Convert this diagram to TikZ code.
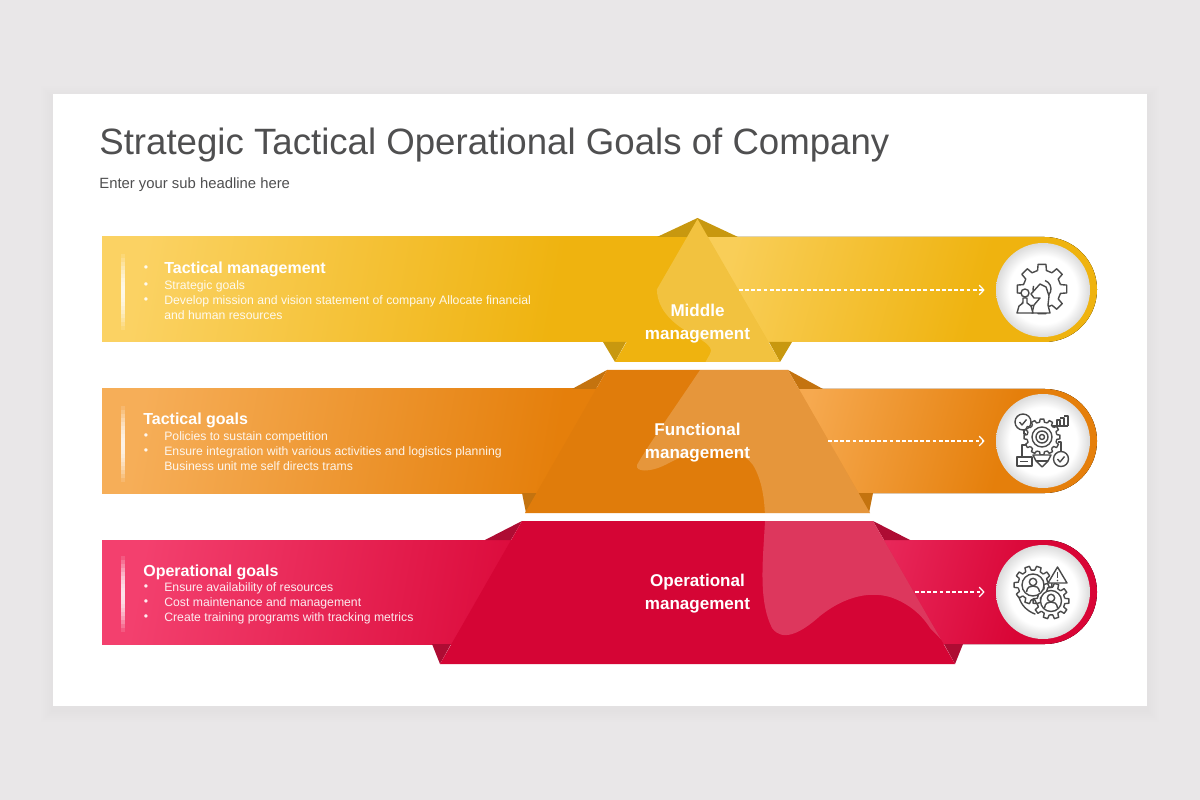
\documentclass[tikz,border=0pt]{standalone}
\usepackage{fontspec}
\setmainfont{Liberation Sans}
\usetikzlibrary{arrows.meta}
\definecolor{pagegray}{HTML}{E9E7E8}
\definecolor{titlegray}{HTML}{4F4F50}
\definecolor{icongray}{HTML}{4A4A4A}
\definecolor{yellowa}{HTML}{FBD263}
\definecolor{yellowb}{HTML}{EFB30F}
\definecolor{yellowc}{HTML}{F9CE58}
\definecolor{yellowdark}{HTML}{C8980F}
\definecolor{orangea}{HTML}{F6AE58}
\definecolor{orangeb}{HTML}{E57F0B}
\definecolor{orangec}{HTML}{F6A94F}
\definecolor{orangedark}{HTML}{C4730F}
\definecolor{reda}{HTML}{F3406E}
\definecolor{redb}{HTML}{D90536}
\definecolor{redc}{HTML}{E92A5C}
\definecolor{reddark}{HTML}{AE0C33}
\pgfdeclareradialshading{iconglow}{\pgfpointorigin}{color(0bp)=(white);color(18bp)=(white);color(25bp)=(black!14);color(50bp)=(black!14)}
\pgfdeclareverticalshading{yellowleft}{100bp}{color(0bp)=(yellowb);color(35bp)=(yellowb);color(75bp)=(yellowa);color(100bp)=(yellowa)}
\pgfdeclareverticalshading{orangeleft}{100bp}{color(0bp)=(orangeb);color(35bp)=(orangeb);color(75bp)=(orangea);color(100bp)=(orangea)}
\pgfdeclareverticalshading{redleft}{100bp}{color(0bp)=(redb);color(35bp)=(redb);color(75bp)=(reda);color(100bp)=(reda)}
\pgfdeclareverticalshading{yellowright}{100bp}{color(0bp)=(yellowb);color(38bp)=(yellowb);color(75bp)=(yellowc);color(100bp)=(yellowc)}
\pgfdeclareverticalshading{orangeright}{100bp}{color(0bp)=(orangeb);color(38bp)=(orangeb);color(75bp)=(orangec);color(100bp)=(orangec)}
\pgfdeclareverticalshading{redright}{100bp}{color(0bp)=(redb);color(38bp)=(redb);color(75bp)=(redc);color(100bp)=(redc)}
\tikzset{
  bodytext/.style={anchor=west,text=white,font=\fontsize{6.95}{8}\selectfont,inner sep=0pt,opacity=0.9},
  headtext/.style={anchor=west,text=white,font=\fontsize{9.1}{11}\bfseries\selectfont,inner sep=0pt},
  pyramidtext/.style={text=white,font=\fontsize{9.7}{13}\bfseries\selectfont,align=center,inner sep=0pt},
  iconcircle/.style={circle,minimum size=1.88cm,inner sep=0pt,shading=iconglow},
  guide/.style={white,dash pattern=on 2.2pt off 1.3pt,line width=0.7pt,-{Straight Barb[length=2.6pt,width=5.5pt,line width=0.7pt]},shorten >=0.22cm},
  iconline/.style={icongray,line width=0.8pt,line join=round},
}
% gear outline: centre x, centre y, inner radius, outer radius, number of teeth
\newcommand{\drawgear}[5]{
  \begin{scope}[shift={(#1,#2)}]
  \pgfmathsetmacro{\pitch}{360/#5}
  \foreach \k in {1,...,#5} {
    \pgfmathsetmacro{\ga}{\k*\pitch}
    \draw[iconline] (\ga-0.3*\pitch:#3) -- (\ga-0.2*\pitch:#4) -- (\ga+0.2*\pitch:#4) -- (\ga+0.3*\pitch:#3) -- (\ga+0.7*\pitch:#3);
  }
  \end{scope}
}
\begin{document}
\begin{tikzpicture}[x=0.02cm,y=-0.02cm]
\useasboundingbox (0,0) rectangle (1200,800);
\fill[pagegray] (0,0) rectangle (1200,800);
%%%% card
\foreach \s in {12,10,...,2} {
  \fill[black,opacity=0.004] (53-\s,94-\s+4) rectangle (1147+\s,706+\s+4);
}
\fill[white] (53,94) rectangle (1147,706);
\node[anchor=west,text=titlegray,font=\fontsize{20.85}{24}\selectfont,inner sep=0pt] (title) at (99,145) {Strategic Tactical Operational Goals of Company};
\node[anchor=west,text=titlegray,font=\fontsize{8.45}{10}\selectfont,inner sep=0pt] (subtitle) at (99,184.5) {Enter your sub headline here};
%%%%%% bars
\fill[shading=yellowleft,shading angle=80] (102,237) rectangle (697,342);
\fill[shading=orangeleft,shading angle=80] (102,389) rectangle (697,493);
\fill[shading=redleft,shading angle=80] (102,540) rectangle (697,644);
\def\yellowcap{(697,237) -- (1044.5,237) arc[start angle=-90,end angle=90,radius=52.5] -- (697,342) -- cycle}
\def\orangecap{(780,389) -- (1045,389) arc[start angle=-90,end angle=90,radius=52] -- (780,493) -- cycle}
\def\redcap{(850,540) -- (1045,540) arc[start angle=-90,end angle=90,radius=52] -- (850,644) -- cycle}
\fill[yellowb] \yellowcap;
\fill[orangeb] \orangecap;
\fill[redb] \redcap;
\fill[shading=yellowright,shading angle=75] \yellowcap;
\fill[shading=orangeright,shading angle=75] \orangecap;
\fill[shading=redright,shading angle=75] \redcap;
%%%%%% glow lines
\foreach \y in {250,402,552} {
  \foreach \i in {0,...,20} {
    \pgfmathsetmacro{\glow}{0.85*sin(9*\i)}
    \fill[white,opacity=\glow] (121,\y+4*\i) rectangle (124.5,\y+4*\i+4);
  }
}
%%%%%% back wedges
\fill[yellowdark] (657,237) -- (697.5,218) -- (738,237) -- cycle;
\fill[yellowdark] (603,342) -- (615,362) -- (626,342) -- cycle;
\fill[yellowdark] (792,342) -- (780,362) -- (769,342) -- cycle;
\fill[orangedark] (572,389) -- (607,370) -- (596,389) -- cycle;
\fill[orangedark] (823,389) -- (788,370) -- (799,389) -- cycle;
\fill[orangedark] (522,493) -- (526,513) -- (537,493) -- cycle;
\fill[orangedark] (873,493) -- (869,513) -- (858,493) -- cycle;
\fill[reddark] (485,540) -- (522,521) -- (511,540) -- cycle;
\fill[reddark] (910,540) -- (873,521) -- (884,540) -- cycle;
\fill[reddark] (432,644) -- (440,664) -- (451,644) -- cycle;
\fill[reddark] (963,644) -- (955,664) -- (944,644) -- cycle;
%%%%%% pyramid
\def\toppath{(697.5,219) -- (780,362) -- (615,362) -- cycle}
\def\midpath{(607,370) -- (788,370) -- (870,513) -- (525,513) -- cycle}
\def\lowpath{(522,521) -- (873,521) -- (955,664) -- (440,664) -- cycle}
\fill[yellowb] \toppath;
\fill[orangeb!98!black] \midpath;
\fill[redb!98!black] \lowpath;
\begin{scope}
\clip \toppath \midpath \lowpath;
\fill[white,opacity=0.2] (640,200) -- (657,287) .. controls (656,303) and (665,316) .. (680,327)
  .. controls (695,337) and (716,345) .. (710,354) .. controls (707,359) and (705,364) .. (700,370)
  .. controls (680,400) and (645,450) .. (637,465) .. controls (635,472) and (650,473) .. (667,464)
  .. controls (690,451) and (735,440) .. (753,465) .. controls (762,480) and (765,500) .. (765,521)
  .. controls (763,560) and (758,600) .. (772,628) .. controls (782,642) and (800,634) .. (820,616)
  .. controls (840,600) and (865,590) .. (890,597) .. controls (905,602) and (920,612) .. (930,628)
  -- (1000,700) -- (1000,200) -- cycle;
\end{scope}
%%%%%% labels on the pyramid
\node[pyramidtext] (middle) at (697.5,324) {Middle\\management};
\node[pyramidtext] (functional) at (697.5,442.5) {Functional\\management};
\node[pyramidtext] (operational) at (697.5,593.5) {Operational\\management};
%%%%%% text of the bars
\node[headtext] (tactical) at (164,269.5) {Tactical management};
\node[headtext] (tacticalgoals) at (143,420.5) {Tactical goals};
\node[headtext] (operationalgoals) at (143,572) {Operational goals};
\foreach \x/\y/\t in {164/286.5/Strategic goals,
  164/301/Develop mission and vision statement of company Allocate financial,
  164/315.5/and human resources,
  164/437.5/Policies to sustain competition,
  164/452/Ensure integration with various activities and logistics planning,
  164/466.5/Business unit me self directs trams,
  164/588.5/Ensure availability of resources,
  164/603.5/Cost maintenance and management,
  164/618/Create training programs with tracking metrics} {
  \node[bodytext] at (\x,\y) {\t};
}
\foreach \x/\y/\t in {146/269/\textbullet,146/286/\textbullet,146/300.5/\textbullet,
  146/437/\textbullet,146/451.5/\textbullet,146/588/\textbullet,146/603/\textbullet,146/617.5/\textbullet} {
  \node[bodytext,anchor=center,font=\fontsize{7}{8}\selectfont] at (\x,\y) {\t};
}
%%%%%% rings and arrows
\node[iconcircle] (yellowicon) at (1043,290) {};
\node[iconcircle] (orangeicon) at (1043,441) {};
\node[iconcircle] (redicon) at (1043,592) {};
\coordinate (yellowstart) at (739,290);
\coordinate (orangestart) at (828,441);
\coordinate (redstart) at (915,592);
\draw[guide] (yellowstart) -- (yellowicon);
\draw[guide] (orangestart) -- (orangeicon);
\draw[guide] (redstart) -- (redicon);
%%%%%% icon 1: gear and chess pieces
\drawgear{1042}{289}{19}{25}{8}
\draw[iconline] (1042,289)++(200:9) arc[start angle=200,end angle=-70,radius=9];
\draw[iconline] (1042,289)++(170:4) arc[start angle=170,end angle=-30,radius=4];
% knight
\draw[iconline,fill=white] (1032,313) -- (1034,305) -- (1040,298) -- (1034,298) -- (1031,294) -- (1040,284) -- (1046,287) -- (1049,296) -- (1048,305) -- (1050,313) -- cycle;
% pawn
\draw[iconline,fill=white] (1017,313) -- (1019,306) -- (1023,303) -- (1023,298) -- (1027,298) -- (1027,303) -- (1031,306) -- (1033,313) -- cycle;
\draw[iconline,fill=white] (1025,293) circle [radius=4];
%%%%%% icon 2: bulb with marks
\drawgear{1042}{437}{15}{18}{12}
\draw[iconline] (1042,437) circle [radius=10];
\draw[iconline] (1042,437) circle [radius=6];
\draw[iconline] (1042,437) circle [radius=2.5];
\draw[iconline,fill=white] (1033,455) -- (1051,455) -- (1048,461) -- (1042,467) -- (1036,461) -- cycle;
\draw[iconline] (1036,461) -- (1048,461);
\draw[iconline] (1023,422) circle [radius=8];
\draw[iconline] (1019.5,422) -- (1022,425) -- (1026.5,419.5);
\draw[iconline] (1061,459) circle [radius=7.5];
\draw[iconline] (1057.5,459) -- (1060,462) -- (1064.5,456.5);
\draw[iconline] (1024,430) -- (1024,434) -- (1026,434);
\draw[iconline] (1022,456) -- (1022,445) -- (1027,445);
\draw[iconline] (1061,451.5) -- (1061,442) -- (1058,442);
\draw[iconline] (1052,426) -- (1068,426);
\draw[iconline] (1057,426) -- (1057,420) -- (1060,420) -- (1060,426) (1060,418) -- (1064,418) -- (1064,426) (1064,416) -- (1068,416) -- (1068,426);
\draw[iconline] (1017,457) -- (1032,457) -- (1032,466) -- (1017,466) -- cycle;
\draw[iconline] (1020,461.5) -- (1028,461.5);
%%%%%% icon 3: gears with people
\drawgear{1033}{585}{15}{19}{10}
\drawgear{1051}{601}{14}{18}{10}
\draw[iconline,fill=white] (1033,585) circle [radius=11];
\draw[iconline,fill=white] (1051,601) circle [radius=10.5];
\foreach \cx/\cy in {1033/585,1051/601} {
  \draw[iconline] (\cx,\cy-3) circle [radius=3.7];
  \draw[iconline] (\cx-6.5,\cy+7) .. controls (\cx-6,\cy+2) and (\cx-3,\cy+1) .. (\cx,\cy+1) .. controls (\cx+3,\cy+1) and (\cx+6,\cy+2) .. (\cx+6.5,\cy+7);
}
\draw[iconline,fill=white,line join=round] (1057.5,567) -- (1067,583) -- (1048,583) -- cycle;
\draw[iconline] (1057.5,572) -- (1057.5,578);
\fill[icongray] (1057.5,580.5) circle [radius=0.8];
\draw[iconline,line cap=round] (1019,597) .. controls (1021,605) and (1027,611) .. (1035,614);
\end{tikzpicture}
\end{document}
